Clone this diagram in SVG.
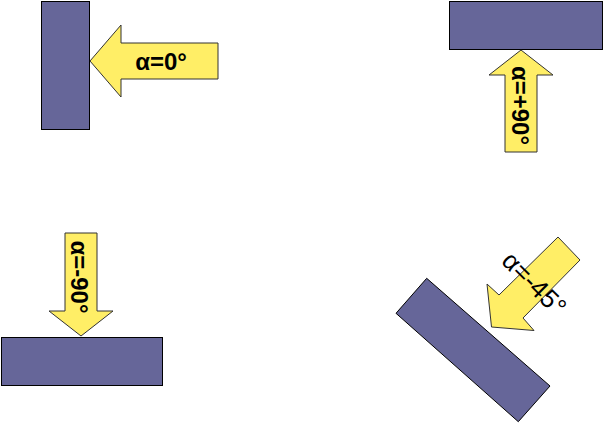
<svg xmlns="http://www.w3.org/2000/svg" width="604" height="424" viewBox="0 0 604 424">
<style>
.wall{fill:#666699;stroke:#000;stroke-width:1}
.arrow{fill:#ffee66;stroke:#333;stroke-width:1;stroke-linejoin:miter}
.lbl{font-family:"Liberation Sans",Arial,sans-serif;font-size:24px;font-weight:bold;fill:#000;text-anchor:middle}
.lbl2{font-family:"Liberation Sans",Arial,sans-serif;font-size:26px;fill:#000;text-anchor:middle}
</style>
<rect width="604" height="424" fill="#fff"/>
<g id="wall-left"><rect class="wall" x="41.5" y="1.5" width="48" height="128"/></g>
<g id="arrow-0">
<polygon class="arrow" points="90,61 121,25 121,43 218,43 218,79 121,79 121,97"/>
<text class="lbl" x="161" y="70">α=0°</text>
</g>
<g id="wall-top"><rect class="wall" x="449.5" y="1.5" width="153" height="48"/></g>
<g id="arrow-plus90">
<polygon class="arrow" points="521,50 553,75 537,75 537,152 505,152 505,75 489,75"/>
<text class="lbl" transform="translate(512,105.5) rotate(90)">α=+90°</text>
</g>
<g id="wall-bottom"><rect class="wall" x="1.5" y="337.5" width="161" height="48"/></g>
<g id="arrow-minus90">
<polygon class="arrow" points="81,336 113,311 97,311 97,233 65,233 65,311 49,311"/>
<text class="lbl" transform="translate(71,277) rotate(90)">α=-90°</text>
</g>
<g id="wall-diagonal"><polygon class="wall" points="396,313.3 426.7,278.3 550,386 518.3,421.7"/></g>
<g id="arrow-minus45">
<polygon class="arrow" points="491.5,327 487,284 499,295 558,237 580,260 523,318 534,330.5"/>
<text class="lbl2" transform="translate(528,290) rotate(45)">α=-45°</text>
</g>
</svg>
